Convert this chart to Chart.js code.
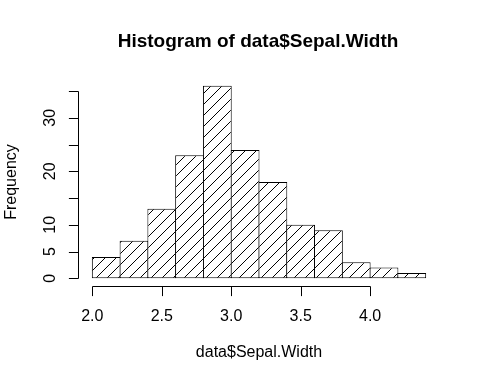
<!DOCTYPE html>
<html>
<head>
<meta charset="utf-8">
<script src="https://cdn.jsdelivr.net/npm/chart.js@4.4.1/dist/chart.umd.min.js"></script>
<style>
html,body{margin:0;padding:0;background:#fff;}
canvas{display:block;}
</style>
</head>
<body>
<canvas id="c" width="480" height="384"></canvas>
<script>
// ---- data ----
const breaks = [2.0, 2.2, 2.4, 2.6, 2.8, 3.0, 3.2, 3.4, 3.6, 3.8, 4.0, 4.2, 4.4];
const counts = [4, 7, 13, 23, 36, 24, 18, 10, 9, 3, 2, 1];
const xTicks = [2.0, 2.5, 3.0, 3.5, 4.0];
const xTickLabels = ["2.0", "2.5", "3.0", "3.5", "4.0"];
const yTicks = [0, 5, 10, 15, 20, 25, 30, 35];
const yTickLabels = ["0", "5", "10", "", "20", "", "30", ""];
const titleText = "Histogram of data$Sepal.Width";
const xTitle = "data$Sepal.Width";
const yTitle = "Frequency";

// histogram table built from the arrays
const points = counts.map((c, i) => ({ x: (breaks[i] + breaks[i + 1]) / 2, y: c }));
const xRange = breaks[breaks.length - 1] - breaks[0];
const xMin = breaks[0] - 0.04 * xRange, xMax = breaks[breaks.length - 1] + 0.04 * xRange;
const yTop = Math.max(...counts);
const yMin = -0.04 * yTop, yMax = yTop * 1.04;

// hatch pattern "/"
function makeHatch() {
  const s = 11;
  const pc = document.createElement('canvas');
  pc.width = s; pc.height = s;
  const p = pc.getContext('2d');
  p.fillStyle = '#fff';
  p.fillRect(0, 0, s, s);
  p.fillStyle = '#000';
  for (let i = 0; i < s; i++) p.fillRect(i, s - 1 - i, 1, 1);
  return p.createPattern(pc, 'repeat');
}

const FONT = '"Liberation Sans", Arial, Helvetica, sans-serif';

const rAxes = {
  id: 'rAxes',
  afterDraw(chart) {
    const ctx = chart.ctx;
    const xs = chart.scales.x, ys = chart.scales.y;
    const area = chart.chartArea;
    const tl = 9.6;
    ctx.save();
    ctx.strokeStyle = '#000';
    ctx.fillStyle = '#000';
    ctx.lineWidth = 1;
    // x axis
    const ax = Math.round(area.bottom) + 0.5;
    const px = v => Math.round(xs.getPixelForValue(v)) + 0.5;
    ctx.beginPath();
    ctx.moveTo(px(xTicks[0]), ax);
    ctx.lineTo(px(xTicks[xTicks.length - 1]), ax);
    xTicks.forEach(v => { ctx.moveTo(px(v), ax); ctx.lineTo(px(v), ax + tl); });
    ctx.stroke();
    ctx.font = '16px ' + FONT;
    ctx.textAlign = 'center';
    ctx.textBaseline = 'alphabetic';
    xTicks.forEach((v, i) => ctx.fillText(xTickLabels[i], xs.getPixelForValue(v), 321));
    // y axis
    const ay = Math.round(area.left) - 0.5;
    const py = v => Math.round(ys.getPixelForValue(v)) + 0.5;
    ctx.beginPath();
    ctx.moveTo(ay, py(yTicks[0]));
    ctx.lineTo(ay, py(yTicks[yTicks.length - 1]));
    yTicks.forEach(v => { ctx.moveTo(ay, py(v)); ctx.lineTo(ay - tl, py(v)); });
    ctx.stroke();
    yTicks.forEach((v, i) => {
      if (!yTickLabels[i]) return;
      ctx.save();
      ctx.translate(55, ys.getPixelForValue(v));
      ctx.rotate(-Math.PI / 2);
      ctx.fillText(yTickLabels[i], 0, 0);
      ctx.restore();
    });
    // titles
    const cx = (area.left + area.right) / 2;
    const cy = (area.top + area.bottom) / 2;
    ctx.fillText(xTitle, cx, 357);
    ctx.save();
    ctx.translate(16, cy);
    ctx.rotate(-Math.PI / 2);
    ctx.fillText(yTitle, 0, 0);
    ctx.restore();
    ctx.font = 'bold 19px ' + FONT;
    ctx.fillText(titleText, cx - 1, 47);
    ctx.restore();
  }
};

new Chart(document.getElementById('c'), {
  type: 'bar',
  data: {
    datasets: [{
      data: points,
      backgroundColor: makeHatch(),
      borderColor: '#000',
      borderWidth: 1,
      borderSkipped: false,
      inflateAmount: 0,
      barPercentage: 1.036,
      categoryPercentage: 1
    }]
  },
  options: {
    responsive: false,
    animation: false,
    devicePixelRatio: 1,
    layout: { padding: { left: 79, right: 41, top: 78, bottom: 98 } },
    plugins: { legend: { display: false }, tooltip: { enabled: false }, title: { display: false } },
    scales: {
      x: { type: 'linear', min: xMin, max: xMax, display: false, offset: false },
      y: { type: 'linear', min: yMin, max: yMax, display: false }
    }
  },
  plugins: [rAxes]
});
</script>
</body>
</html>
